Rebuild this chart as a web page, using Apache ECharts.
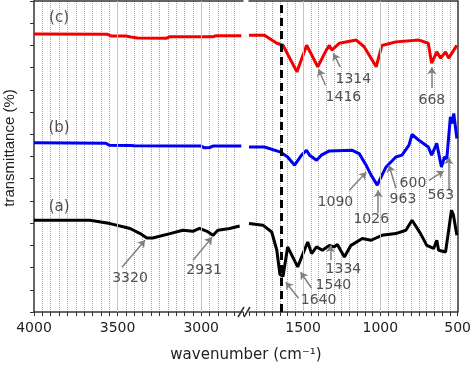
<!DOCTYPE html>
<html>
<head>
<meta charset="utf-8">
<script src="https://cdn.jsdelivr.net/npm/echarts@6/dist/echarts.min.js"></script>
<style>
  html, body { margin: 0; padding: 0; background: #fff; }
  #chart { width: 474px; height: 368px; }
</style>
</head>
<body>
<div id="chart"></div>
<script>
// spectra, [wavenumber, offset transmittance]; "High" = 4000-2750 part, "Low" = 1850-500 part
const redHigh = [[4000, 12.51], [3560, 12.50], [3540, 12.43], [3450, 12.42], [3420, 12.38], [3380, 12.33],
  [3210, 12.32], [3190, 12.39], [2930, 12.39], [2910, 12.44], [2760, 12.44]];
const redLow = [[1850, 12.46], [1750, 12.46], [1670, 12.10], [1630, 12.01], [1540, 10.81], [1477, 12.01],
  [1405, 11.04], [1350, 11.79], [1330, 12.00], [1314, 11.79], [1265, 12.10], [1156, 12.24], [1105, 11.94],
  [1027, 11.04], [990, 12.00], [900, 12.16], [750, 12.24], [690, 12.10], [668, 11.20], [635, 11.71],
  [610, 11.43], [578, 11.71], [558, 11.43], [505, 12.00]];
const blueHigh = [[4000, 7.62], [3570, 7.60], [3550, 7.51], [3420, 7.50], [3400, 7.48], [3000, 7.47],
  [2980, 7.39], [2950, 7.40], [2930, 7.47], [2760, 7.47]];
const blueLow = [[1850, 7.43], [1750, 7.43], [1650, 7.21], [1600, 6.98], [1555, 6.61], [1510, 7.06],
  [1478, 7.28], [1458, 7.06], [1413, 6.83], [1382, 7.06], [1330, 7.25], [1182, 7.28], [1137, 7.13],
  [1092, 6.61], [1060, 6.16], [1020, 5.71], [995, 6.08], [963, 6.53], [900, 6.98], [860, 7.06],
  [815, 7.51], [795, 7.99], [750, 7.73], [690, 7.43], [668, 7.06], [635, 7.59], [605, 6.53],
  [585, 6.98], [570, 6.90], [547, 8.78], [533, 8.49], [525, 8.94], [505, 7.81]];
const blackHigh = [[4000, 4.13], [3665, 4.13], [3545, 3.98], [3425, 3.76], [3365, 3.53], [3325, 3.33],
  [3290, 3.33], [3187, 3.53], [3110, 3.68], [3050, 3.63], [3010, 3.76], [2965, 3.63], [2930, 3.45],
  [2900, 3.68], [2830, 3.76], [2770, 3.87]];
const blackLow = [[1850, 3.98], [1760, 3.91], [1703, 3.60], [1670, 2.78], [1650, 1.70], [1630, 1.60],
  [1600, 2.93], [1535, 2.03], [1470, 3.15], [1445, 2.63], [1413, 2.93], [1375, 2.78], [1330, 3.00],
  [1300, 2.93], [1278, 3.04], [1233, 2.48], [1190, 3.00], [1117, 3.31], [1060, 3.23], [990, 3.45],
  [900, 3.53], [835, 3.68], [795, 4.13], [740, 3.53], [700, 3.00], [655, 2.86], [635, 3.23],
  [623, 2.78], [578, 2.70], [540, 4.58], [527, 4.36], [505, 3.45]];

const ticksHigh = [4000, 3500, 3000];
const ticksLow = [1500, 1000, 500];
const markerLine = 1640;

// annotation text: [text, wavenumber, value]
const tracesTags = [['(c)', 3850, 13.23], ['(b)', 3850, 8.27], ['(a)', 3850, 4.72]];
const labelsHigh = [['3320', 3426, 1.52], ['2931', 2983, 1.88]];
const labelsLow = [['1314', 1175, 10.48], ['1416', 1239, 9.67], ['668', 667, 9.54],
  ['1090', 1291, 4.94], ['1026', 1059, 4.18], ['963', 854, 5.08], ['600', 789, 5.80],
  ['563', 609, 5.26], ['1334', 1239, 1.92], ['1540', 1304, 1.20], ['1640', 1400, 0.53]];
// arrows: [fromWn, fromVal, toWn, toVal]
const arrowsHigh = [[3474, 2.01, 3336, 3.23], [3049, 2.33, 2935, 3.36]];
const arrowsLow = [[1259, 11.02, 1304, 11.64], [1355, 10.21, 1400, 10.93], [667, 10.08, 667, 11.02],
  [1201, 5.48, 1091, 6.29], [1014, 4.45, 1014, 5.48], [899, 5.57, 944, 6.61], [686, 5.93, 590, 6.34],
  [558, 5.48, 558, 6.97], [1323, 2.33, 1323, 3.00], [1445, 1.07, 1516, 1.79], [1529, 0.62, 1612, 1.34]];

const font = 'DejaVu Sans';
const axisColor = '#333';

function bottomAxis(gridIndex, min, max, ticks) {
  return {
    type: 'value', gridIndex, inverse: true, min, max, interval: 50,
    axisLine: { onZero: false, lineStyle: { color: axisColor, width: 1.5 } },
    axisTick: { length: 4, lineStyle: { color: axisColor } },
    axisLabel: {
      interval: 0, margin: 9, color: '#222', fontFamily: font, fontSize: 14,
      formatter: v => (ticks.includes(v) ? String(v) : ''),
    },
    splitLine: { show: true, showMinLine: false, showMaxLine: false,
      lineStyle: { color: '#a6a6a6', type: 'dotted', width: 1 } },
  };
}
function topAxis(gridIndex, min, max) {
  return {
    type: 'value', gridIndex, position: 'top', inverse: true, min, max,
    axisLine: { onZero: false, lineStyle: { color: axisColor, width: 1.5 } },
    axisTick: { show: false }, axisLabel: { show: false }, splitLine: { show: false },
  };
}

function traceSeries(idx, data, color) {
  return {
    type: 'line', xAxisIndex: idx, yAxisIndex: idx, data, showSymbol: false, z: 3,
    lineStyle: { color, width: 3 }, itemStyle: { color },
  };
}
function majorLines(idx, ticks) {
  return {
    type: 'line', xAxisIndex: idx, yAxisIndex: idx, data: [], z: 1,
    markLine: {
      silent: true, symbol: 'none', label: { show: false },
      lineStyle: { color: '#c4c4c4', type: 'solid', width: 1 },
      data: ticks.map(t => ({ xAxis: t })),
    },
  };
}
function arrowSeries(idx, arrows) {
  return {
    type: 'line', xAxisIndex: idx, yAxisIndex: idx, data: [], z: 5,
    markLine: {
      silent: true, symbol: ['none', 'arrow'], symbolSize: 7, label: { show: false },
      lineStyle: { color: '#808080', type: 'solid', width: 1.5 },
      data: arrows.map(a => [{ coord: [a[0], a[1]] }, { coord: [a[2], a[3]] }]),
    },
  };
}
function labelSeries(idx, labels, size) {
  return {
    type: 'scatter', xAxisIndex: idx, yAxisIndex: idx, symbolSize: 1, z: 6,
    itemStyle: { color: 'rgba(0,0,0,0)' },
    data: labels.map(l => [l[1], l[2], l[0]]),
    label: {
      show: true, position: 'inside', formatter: p => p.data[2],
      color: '#262626', fontFamily: font, fontSize: size,
    },
  };
}

const chart = echarts.init(document.getElementById('chart'));
chart.setOption({
  animation: false,
  backgroundColor: '#fff',
  grid: [
    { left: 34, top: 1, width: 209, bottom: 56 },
    { left: 249, top: 1, width: 210, bottom: 56 },
  ],
  xAxis: [
    bottomAxis(0, 2750, 4000, ticksHigh),
    bottomAxis(1, 500, 1850, ticksLow),
    topAxis(0, 2750, 4000),
    topAxis(1, 500, 1850),
  ],
  yAxis: [
    {
      type: 'value', gridIndex: 0, min: 0, max: 14, interval: 1,
      axisLine: { show: true, onZero: false, lineStyle: { color: axisColor, width: 1.5 } },
      axisTick: { show: true, length: 4, lineStyle: { color: axisColor } },
      axisLabel: { show: false }, splitLine: { show: false },
    },
    {
      type: 'value', gridIndex: 1, min: 0, max: 14, interval: 1, position: 'right',
      axisLine: { show: true, onZero: false, lineStyle: { color: axisColor, width: 1.5 } },
      axisTick: { show: false }, axisLabel: { show: false }, splitLine: { show: false },
    },
  ],
  graphic: [
    {
      type: 'text', x: 246, y: 355,
      style: { text: 'wavenumber (cm⁻¹)', font: '15px "DejaVu Sans"', fill: '#222',
        textAlign: 'center', textVerticalAlign: 'middle' },
    },
    {
      type: 'text', x: 10, y: 148, rotation: Math.PI / 2,
      style: { text: 'transmittance (%)', font: '15px "Liberation Sans"', fill: '#222',
        textAlign: 'center', textVerticalAlign: 'middle' },
    },
    // axis break marks
    { type: 'line', shape: { x1: 238, y1: 317, x2: 244, y2: 307 }, style: { stroke: '#333', lineWidth: 1.5 } },
    { type: 'line', shape: { x1: 244, y1: 317, x2: 250, y2: 307 }, style: { stroke: '#333', lineWidth: 1.5 } },
  ],
  series: [
    majorLines(0, [3500, 3000]),
    majorLines(1, [1500, 1000]),
    traceSeries(0, redHigh, '#f20000'),
    traceSeries(1, redLow, '#f20000'),
    traceSeries(0, blueHigh, '#0000f0'),
    traceSeries(1, blueLow, '#0000f0'),
    traceSeries(0, blackHigh, '#000'),
    traceSeries(1, blackLow, '#000'),
    {
      type: 'line', xAxisIndex: 1, yAxisIndex: 1, data: [], z: 4,
      markLine: {
        silent: true, symbol: 'none', label: { show: false },
        lineStyle: { color: '#000', type: [8, 5], width: 3 },
        data: [{ xAxis: markerLine }],
      },
    },
    arrowSeries(0, arrowsHigh),
    arrowSeries(1, arrowsLow),
    labelSeries(0, tracesTags, 15),
    labelSeries(0, labelsHigh, 14),
    labelSeries(1, labelsLow, 14),
  ],
});
</script>
</body>
</html>
